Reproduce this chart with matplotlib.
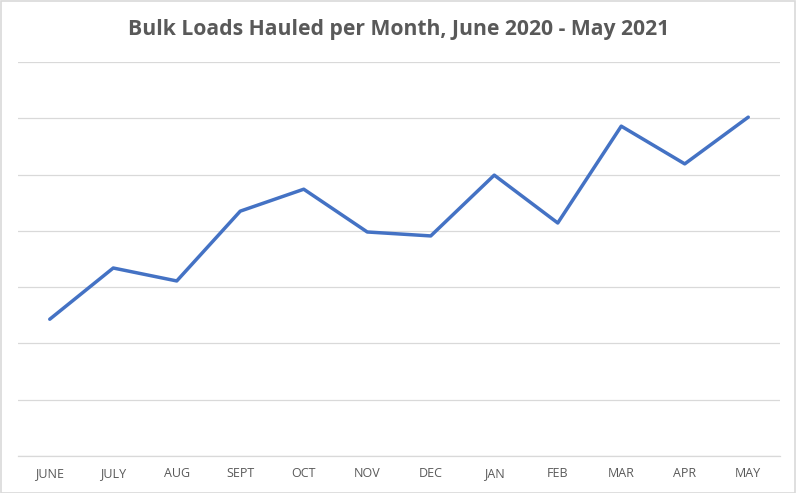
import matplotlib
matplotlib.use("Agg")
import matplotlib.pyplot as plt
from matplotlib.patches import Rectangle

# monthly loads (y axis has no labels, units read as gridline = 100)
months = ["JUNE", "JULY", "AUG", "SEPT", "OCT", "NOV", "DEC", "JAN", "FEB", "MAR", "APR", "MAY"]
loads = [243, 334, 311, 435, 474, 398, 391, 499, 414, 586, 519, 602]

grid_col = "#D9D9D9"
text_col = "#595959"

fig = plt.figure(figsize=(7.97, 4.93), dpi=100)
ax = fig.add_axes([18 / 797, 1 - 456 / 493, (780 - 18) / 797, (456 - 62) / 493])

ax.plot(range(len(months)), loads, color="#4472C4", linewidth=2.5,
        solid_joinstyle="round", solid_capstyle="round", zorder=3)

ax.set_xlim(-0.5, len(months) - 0.5)
ax.set_ylim(0, 700)
ax.set_yticks(range(0, 701, 100))
ax.set_yticklabels([])
ax.tick_params(axis="y", length=0)
ax.grid(axis="y", color=grid_col, linewidth=0.9)
ax.set_axisbelow(True)

ax.set_xticks(range(len(months)))
ax.set_xticklabels(months, fontsize=9, color=text_col, family="Open Sans")
ax.tick_params(axis="x", length=0, pad=8)

for s in ["top", "left", "right"]:
    ax.spines[s].set_visible(False)
ax.spines["bottom"].set_color(grid_col)
ax.spines["bottom"].set_linewidth(0.9)

fig.text(0.5, 1 - 29 / 493, "Bulk Loads Hauled per Month, June 2020 - May 2021",
         ha="center", va="center", fontsize=15.2, color=text_col,
         family="Open Sans", weight="bold")

# outer border
fig.add_artist(Rectangle((0.001, 0.001), 0.997, 0.996, transform=fig.transFigure,
                         fill=False, edgecolor=grid_col, linewidth=1.2))

fig.savefig("out.png", dpi=100)
